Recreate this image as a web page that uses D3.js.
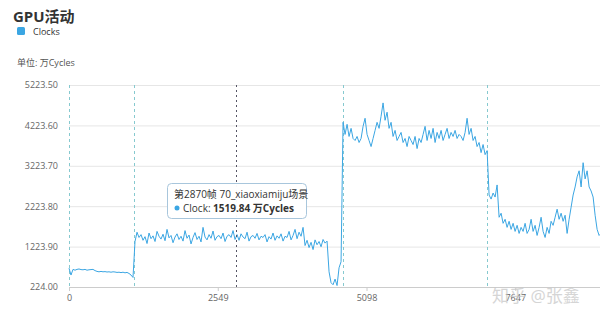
<!DOCTYPE html>
<html>
<head>
<meta charset="utf-8">
<script src="https://cdn.jsdelivr.net/npm/d3@7"></script>
<style>
  body { margin: 0; background: #fff; overflow: hidden; }
  text { font-family: "Open Sans", "Noto Sans CJK SC", sans-serif; }
</style>
</head>
<body>
<div id="chart"></div>
<script>
// Chart data
//=================================
var frameStep = 34.28;   // frames between two samples
var clockValues = [
  // scene 1
  690, 520, 660, 640, 660, 670, 655, 650, 660, 640, 650, 655, 660, 630, 610, 600,
  610, 600, 605, 595, 600, 590, 600, 595, 585, 590, 580, 590, 575, 585, 560, 520, 460,
  // scene 2
  1350, 1580, 1450, 1520, 1380, 1470, 1300, 1560, 1420, 1490, 1350, 1600, 1480, 1410,
  1530, 1370, 1650, 1440, 1500, 1320, 1460, 1540,
  1400, 1480, 1360, 1620, 1430, 1510, 1290, 1450, 1570, 1400, 1480, 1340, 1700, 1460,
  1390, 1520, 1430, 1610, 1380, 1470, 1500,
  1420, 1560, 1350, 1480, 1520, 1450, 1620, 1400, 1520, 1380, 1540, 1460, 1420, 1580,
  1360, 1470, 1500, 1430, 1550, 1390, 1480,
  1450, 1520, 1340, 1470, 1410, 1560, 1380, 1490, 1430, 1540, 1360, 1480, 1450, 1600,
  1390, 1500, 1650, 1420, 1580, 1480, 1700,
  1250, 1380, 1200, 1330, 1150, 1390, 1270, 1350, 1220, 1400, 1310, 1360,
  600, 330, 280, 420, 260, 700, 850,
  // scene 3
  4300, 4000, 4250, 3950, 4150, 3900, 3850, 3950, 3800, 3900, 4200, 4400, 4000, 3850,
  3700, 3900, 4100, 4300, 4150, 4450, 4780, 4350, 4550, 4150, 4300, 3950, 4100, 3850,
  3950, 4050, 3800, 3900, 3700, 3950, 3850, 3750, 3950, 3650, 3900, 3800, 4000, 4200,
  3850, 4100, 3900, 4150, 3800, 4050, 3900, 4100, 3850, 4000, 4150, 3900, 4050, 3950,
  4100, 3900, 4000, 3950, 3850, 4050, 4400, 4000, 4150, 3850, 3950, 3700, 3800, 3550,
  3750, 3500, 3600,
  // scene 4
  2500, 2400, 2550, 2450, 2750, 1950, 2050, 1800, 1900, 1700, 1850, 1650, 1800, 1600,
  1750, 1550, 1700, 1600, 1800, 1550, 1650, 1900, 1600, 1750, 1500, 1700, 1950, 1600,
  1450, 1700, 1550, 1850, 1750, 1950, 2150, 1900, 2050, 1850, 2000, 1550, 1900, 2200,
  2500, 2700, 2950, 3100, 2700, 3300, 2900, 3100, 2700, 2600, 2450, 2000, 1650, 1500, 1550
];
var sceneFrames = [0, 1114, 4697, 7165];
var xTicks = [0, 2549, 5098, 7647];
var yTicks = [224.00, 1223.90, 2223.80, 3223.70, 4223.60, 5223.50];
var hoverFrame = 2870;
var hoverScene = "70_xiaoxiamiju场景";
var hoverValue = 1519.84;

// Set up the chart
//=================================
var svgWidth = 600;
var svgHeight = 317;
var lineColor = "#3ba6e3";

var svg = d3.select("#chart")
  .append("svg")
  .attr("width", svgWidth)
  .attr("height", svgHeight);

// the plot runs past the right edge of the window, so it is cut at 600
var xScale = d3.scaleLinear()
  .domain([0, 10196])
  .range([69, 664]);

var yScale = d3.scaleLinear()
  .domain([224.00, 5223.50])
  .range([287, 85]);

var points = clockValues.map(function(v, i) {
  return { frame: i * frameStep, value: v };
});

// Title, legend and unit
//=================================
svg.append("text")
  .attr("x", 13)
  .attr("y", 22)
  .attr("font-size", "15px")
  .attr("font-weight", "bold")
  .attr("fill", "#333")
  .text("GPU活动");

svg.append("rect")
  .attr("x", 17)
  .attr("y", 27)
  .attr("width", 8)
  .attr("height", 8)
  .attr("rx", 1.5)
  .attr("fill", lineColor);

svg.append("text")
  .attr("x", 33)
  .attr("y", 35)
  .attr("font-size", "9px")
  .attr("fill", "#333")
  .text("Clocks");

svg.append("text")
  .attr("x", 17)
  .attr("y", 66)
  .attr("font-size", "9px")
  .attr("fill", "#555")
  .text("单位: 万Cycles");

// Grid lines and y axis labels
//=================================
var yAxis = svg.append("g")
  .attr("transform", "translate(69,0)")
  .call(d3.axisLeft(yScale)
    .tickValues(yTicks)
    .tickSize(-(svgWidth - 69))
    .tickPadding(11)
    .tickFormat(d3.format(".2f")));

yAxis.select(".domain").remove();
yAxis.selectAll(".tick line").attr("stroke", "#e6e6e6");
yAxis.selectAll(".tick text")
  .attr("fill", "#666")
  .attr("font-size", "9px");

// x axis
var xAxis = svg.append("g")
  .attr("transform", "translate(0,287)")
  .call(d3.axisBottom(xScale)
    .tickValues(xTicks)
    .tickSize(4)
    .tickPadding(4)
    .tickFormat(d3.format("d")));

xAxis.select(".domain").attr("stroke", "#ccc");
xAxis.selectAll(".tick line").attr("stroke", "#ccc");
xAxis.selectAll(".tick text")
  .attr("fill", "#666")
  .attr("font-size", "9px");

// Scene boundaries
//=================================
svg.selectAll(".scene")
  .data(sceneFrames)
  .enter()
  .append("line")
  .attr("class", "scene")
  .attr("x1", d => Math.round(xScale(d)) + 0.5)
  .attr("x2", d => Math.round(xScale(d)) + 0.5)
  .attr("y1", 85)
  .attr("y2", 287)
  .attr("stroke", "#86c9cf")
  .attr("stroke-dasharray", "3,3");

// Clock line
//=================================
var line = d3.line()
  .x(d => xScale(d.frame))
  .y(d => yScale(d.value));

svg.append("path")
  .datum(points)
  .attr("fill", "none")
  .attr("stroke", lineColor)
  .attr("stroke-width", 1)
  .attr("stroke-linejoin", "round")
  .attr("d", line);

// Hover crosshair
svg.append("line")
  .attr("x1", Math.round(xScale(hoverFrame)) + 0.5)
  .attr("x2", Math.round(xScale(hoverFrame)) + 0.5)
  .attr("y1", 85)
  .attr("y2", 287)
  .attr("stroke", "#556")
  .attr("stroke-dasharray", "2,3");

// Watermark (sits over the 7647 label, as in the source picture)
svg.append("text")
  .attr("x", 492)
  .attr("y", 302)
  .attr("font-size", "17px")
  .attr("fill", "#c8c8c8")
  .attr("opacity", 0.75)
  .text("知乎 @张鑫");

// Tooltip
//=================================
var tip = svg.append("g")
  .attr("transform", "translate(167,183)");

tip.append("rect")
  .attr("x", 0.5)
  .attr("y", 0.5)
  .attr("width", 139)
  .attr("height", 35)
  .attr("rx", 4)
  .attr("fill", "rgba(255,255,255,0.96)")
  .attr("stroke", "#a8c6dc");

tip.append("text")
  .attr("x", 7)
  .attr("y", 15)
  .attr("font-size", "10px")
  .attr("fill", "#333")
  .text("第" + hoverFrame + "帧 " + hoverScene);

tip.append("circle")
  .attr("cx", 10)
  .attr("cy", 25)
  .attr("r", 2.5)
  .attr("fill", lineColor);

var tipValue = tip.append("text")
  .attr("x", 16)
  .attr("y", 28.5)
  .attr("font-size", "10px")
  .attr("fill", "#333");

tipValue.append("tspan").text("Clock: ");
tipValue.append("tspan")
  .attr("font-weight", "bold")
  .text(hoverValue.toFixed(2) + " 万Cycles");
</script>
</body>
</html>
